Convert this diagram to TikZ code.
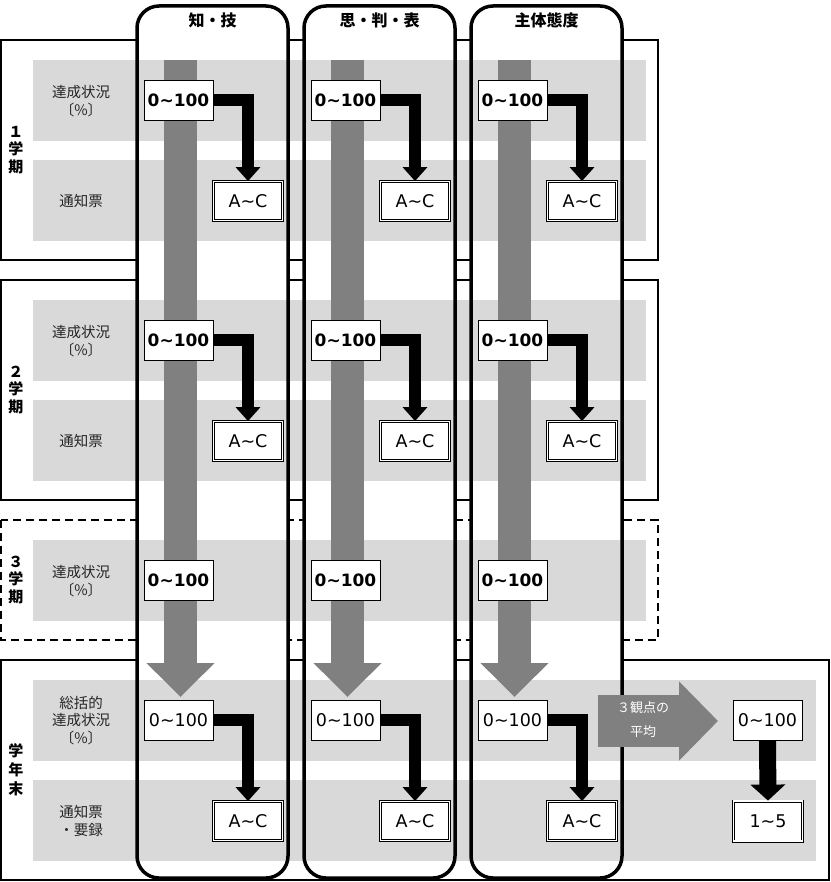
\documentclass[tikz,border=0pt]{standalone}
\usepackage{fontspec}
\newfontfamily\jp{Noto Sans CJK JP}
\newfontfamily\dv{DejaVu Sans}
\usetikzlibrary{arrows.meta}
\definecolor{band}{HTML}{D9D9D9}
\definecolor{shaft}{HTML}{808080}
\begin{document}
\begin{tikzpicture}[x=1pt,y=-1pt,
  valbox/.style={draw,line width=0.8pt,fill=white,minimum width=69pt,minimum height=40pt,inner sep=0pt,font=\dv\bfseries\fontsize{17}{17}\selectfont},
  valboxn/.style={valbox,font=\dv\fontsize{17.5}{17}\selectfont},
  gradebox/.style={draw,line width=0.8pt,double,double distance=1.4pt,fill=white,minimum width=69pt,minimum height=39pt,inner sep=0pt,font=\dv\fontsize{17.5}{17}\selectfont},
  blk/.style={line width=12pt,-{Triangle[width=24pt,length=14pt]}},
  blkbig/.style={line width=17pt,-{Triangle[width=34pt,length=16pt]}},
  gshaft/.style={draw=shaft,line width=33pt,-{Triangle[width=66pt,length=34pt]}},
  termbox/.style={line width=1.6pt},
  colframe/.style={line width=3.5pt,rounded corners=22pt},
  rowlab/.style={font=\jp\fontsize{14.5}{17.5}\selectfont,align=center,text=black!85},
  termlab/.style={font=\jp\bfseries\fontsize{15}{17.5}\selectfont,align=center,inner sep=0pt},
  headlab/.style={font=\jp\bfseries\fontsize{16}{16}\selectfont,inner sep=0pt},
  avglab/.style={font=\jp\fontsize{13}{24}\selectfont,align=center,text=white}
]
\useasboundingbox (0,0) rectangle (830,882);
% term frames
\draw[termbox] (0.8,40) rectangle (658,260);
\draw[termbox] (0.8,280) rectangle (658,500);
\draw[termbox,dashed,dash pattern=on 8pt off 5pt] (0.8,520) rectangle (658,640);
\draw[termbox] (0.8,660) rectangle (829,880);
% column white fills
\foreach \dx in {0,167,334}{
  \fill[white,rounded corners=22pt] (137+\dx,6) rectangle (288+\dx,878);
}
% bands
\fill[band] (33,60) rectangle (646,141);
\fill[band] (33,160) rectangle (646,241);
\fill[band] (33,300) rectangle (646,381);
\fill[band] (33,400) rectangle (646,481);
\fill[band] (33,540) rectangle (646,621);
\fill[band] (33,680) rectangle (816,761);
\fill[band] (33,780) rectangle (816,861);
% grey vertical arrows
\foreach \c/\dx in {1/0,2/167,3/334}{
  \coordinate (st\c) at ({180.5+\dx},60);
  \coordinate (sb\c) at ({180.5+\dx},697);
  \draw[gshaft] (st\c) -- (sb\c);
}
% column frames
\foreach \dx in {0,167,334}{
  \draw[colframe] (137+\dx,6) rectangle (288+\dx,878);
}
% headers
\node[headlab] (h1) at (212.5,20) {知・技};
\node[headlab] (h2) at (379.5,20) {思・判・表};
\node[headlab] (h3) at (546.5,20) {主体態度};
% average arrow
\coordinate (avs) at (598,721);
\coordinate (ave) at (718,721);
\draw[draw=shaft,line width=52pt,-{Triangle[width=77pt,length=39pt]}] (avs) -- (ave);
\node[avglab] (avg) at (643,720) {３観点の\\平均};
% value boxes
\foreach \c/\dx in {1/0,2/167,3/334}{
  \node[valbox] (va\c) at ({178.5+\dx},100) {0\textasciitilde100};
  \node[gradebox] (ga\c) at ({248+\dx},201) {A\textasciitilde C};
  \node[valbox] (vb\c) at ({178.5+\dx},340) {0\textasciitilde100};
  \node[gradebox] (gb\c) at ({248+\dx},441) {A\textasciitilde C};
  \node[valbox] (vc\c) at ({178.5+\dx},580) {0\textasciitilde100};
  \node[valboxn] (vd\c) at ({178.5+\dx},720) {0\textasciitilde100};
  \node[gradebox] (gd\c) at ({248+\dx},821) {A\textasciitilde C};
  \draw[blk] (va\c.east) -| (ga\c.north);
  \draw[blk] (vb\c.east) -| (gb\c.north);
  \draw[blk] (vd\c.east) -| (gd\c.north);
}
\node[valboxn] (vf) at (767.5,720.5) {0\textasciitilde100};
\node[gradebox,minimum width=69pt,minimum height=40pt] (gf) at (768,821) {1\textasciitilde5};
\draw[blkbig] (vf.south) -- (gf.north);
% row labels
\node[rowlab] (r1a) at (81,101) {達成状況\\〔\%〕};
\node[rowlab] (r1b) at (81,201) {通知票};
\node[rowlab] (r2a) at (81,341) {達成状況\\〔\%〕};
\node[rowlab] (r2b) at (81,441) {通知票};
\node[rowlab] (r3a) at (81,581) {達成状況\\〔\%〕};
\node[rowlab] (r4a) at (81,720.5) {総括的\\達成状況\\〔\%〕};
\node[rowlab] (r4b) at (81,821) {通知票\\・要録};
% term labels
\node[termlab] (t1) at (16,150) {１\\学\\期};
\node[termlab] (t2) at (16,390) {２\\学\\期};
\node[termlab] (t3) at (16,580) {３\\学\\期};
\node[termlab,font=\jp\bfseries\fontsize{15}{19}\selectfont] (t4) at (16,770) {学\\年\\末};
\end{tikzpicture}
\end{document}
